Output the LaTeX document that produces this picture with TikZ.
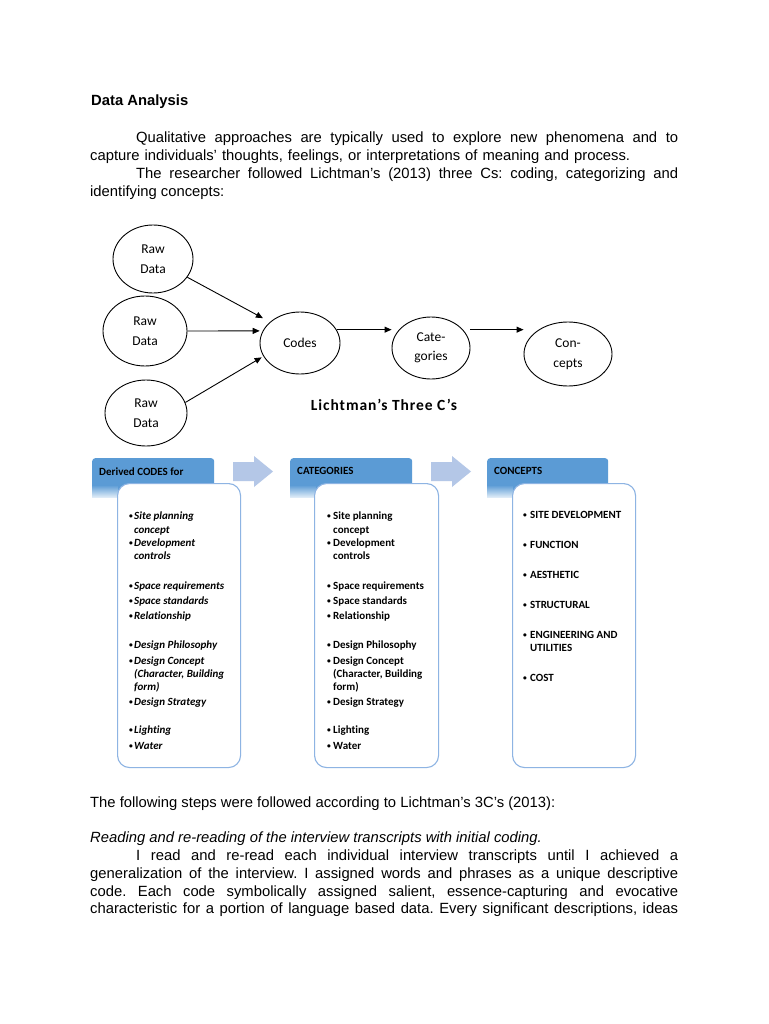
\documentclass[tikz,border=0pt]{standalone}
\usepackage{fontspec}
\setmainfont{Liberation Sans}
\newfontfamily\calib[Ligatures=NoCommon]{Carlito}
\newfontfamily\calibsp[LetterSpace=6,Ligatures=NoCommon]{Carlito}
\usetikzlibrary{shapes.geometric,arrows.meta}
\definecolor{hdrblue}{HTML}{5B9BD5}
\definecolor{hdrlight}{HTML}{DEEBF7}
\definecolor{boxline}{HTML}{8EB4E3}
\definecolor{arrblue}{HTML}{B4C7E7}
\frenchspacing
\tikzset{
  body/.style={anchor=base west, inner sep=0pt, font=\fontsize{14.8}{17}\selectfont},
  bodyb/.style={body, font=\fontsize{14.8}{17}\selectfont\bfseries},
  bodyi/.style={body, font=\fontsize{14.8}{17}\selectfont\itshape},
  oval/.style={ellipse, draw, line width=0.9pt, inner sep=0pt, align=center,
    font=\calib\fontsize{13.5}{19.5}\selectfont},
  flow/.style={-{Triangle[length=7pt,width=6pt]}, line width=0.9pt},
  hdr/.style={fill=hdrblue, rounded corners=3pt, anchor=north west, inner sep=0pt},
  hdrtext/.style={anchor=base west, inner sep=0pt, font=\calib\bfseries\fontsize{11}{13}\selectfont},
  card/.style={draw=boxline, fill=white, line width=1.1pt, rounded corners=12pt, anchor=north west, inner sep=0pt},
  itemi/.style={anchor=base west, inner sep=0pt, font=\calib\bfseries\itshape\fontsize{11}{12}\selectfont},
  itemb/.style={anchor=base west, inner sep=0pt, font=\calib\bfseries\fontsize{11}{12}\selectfont},
  bul/.style={anchor=base west, inner sep=0pt, font=\calib\bfseries\fontsize{7.5}{9}\selectfont},
  blockarrow/.style={fill=arrblue},
}
\begin{document}
\begin{tikzpicture}[x=1pt,y=-1pt]
\useasboundingbox[fill=white] (0,0) rectangle (768,1024);

% ---------- upper text ----------
\node[bodyb] (t0) at (91,106) {Data Analysis};
\node[body] (t1) at (136,143) {\makebox[542pt][s]{Qualitative approaches are typically used to explore new phenomena and to}};
\node[body] (t2) at (90,161) {\makebox[540pt][s]{capture individuals’ thoughts, feelings, or interpretations of meaning and process.}};
\node[body] (t3) at (136,179) {\makebox[542pt][s]{The researcher followed Lichtman’s (2013) three Cs: coding, categorizing and}};
\node[body] (t4) at (90,197) {identifying concepts:};

% ---------- three Cs diagram ----------
\node[oval, minimum width=80pt, minimum height=68pt] (rd1) at (153,259) {Raw\\Data};
\node[oval, minimum width=84pt, minimum height=70pt] (rd2) at (145,331) {Raw\\Data};
\node[oval, minimum width=82pt, minimum height=66pt] (rd3) at (146,413) {Raw\\Data};
\node[oval, minimum width=80pt, minimum height=62pt] (codes) at (300,343) {Codes};
\node[oval, minimum width=78pt, minimum height=62pt] (cats) at (431,348) {Cate-\\gories};
\node[oval, minimum width=88pt, minimum height=64pt] (conc) at (568,354) {Con-\\cepts};

\draw[flow, shorten >=8pt] (rd1.332) -- (codes.145);
\draw[flow, shorten >=3pt] (rd2.east) -- (codes.162);
\draw[flow, shorten >=2pt] (rd3.15) -- (codes.200);
\draw[flow] (codes.20) -- (codes.20 -| cats.west);
\draw[flow] (codes.20 -| cats.east) -- (codes.20 -| conc.west);

\node[anchor=base, inner sep=0pt, font=\calibsp\bfseries\fontsize{15.5}{18}\selectfont] (ttl) at (384,410) {Lichtman’s Three C’s};

% ---------- lower boxes ----------
\node[hdr, minimum width=122pt, minimum height=39pt] (h1) at (92,458) {};
\node[hdr, minimum width=122pt, minimum height=39pt] (h2) at (290,458) {};
\node[hdr, minimum width=121pt, minimum height=39pt] (h3) at (487,458) {};
\foreach \x in {92,290,487}{
  \shade[top color=hdrblue, bottom color=hdrlight] (\x,485) rectangle (\x+26,497);
}
\node[hdrtext] (h1t) at (99,475) {Derived CODES for};
\node[hdrtext] (h2t) at (297,474) {CATEGORIES};
\node[hdrtext] (h3t) at (494,474) {CONCEPTS};

\node[card, minimum width=123pt, minimum height=284pt] (c1) at (117,483) {};
\node[card, minimum width=124pt, minimum height=284pt] (c2) at (314,483) {};
\node[card, minimum width=123pt, minimum height=284pt] (c3) at (512,483) {};

\fill[blockarrow] (233,462) -- (254,462) -- (254,456) -- (273,471.5) -- (254,487) -- (254,481) -- (233,481) -- cycle;
\fill[blockarrow] (431,462) -- (452,462) -- (452,456) -- (471,471.5) -- (452,487) -- (452,481) -- (431,481) -- cycle;

% box 1 items (bold italic)
\foreach \y/\t in {515/Site planning, 542/Development, 585/Space requirements, 600/Space standards,
  615/Relationship, 644/Design Philosophy, 660/Design Concept, 701/Design Strategy, 729/Lighting, 745/Water}{
  \node[bul] (ab\y) at (129,\y+3) {•};
  \node[itemi] (a\y) at (134,\y+4) {\t};
}
\foreach \y/\t in {529/concept, 555/controls, 673/{(Character, Building}, 686/form)}{
  \node[itemi] (a\y) at (134,\y+4) {\t};
}
% box 2 items (bold)
\foreach \y/\t in {515/Site planning, 542/Development, 585/Space requirements, 600/Space standards,
  615/Relationship, 644/Design Philosophy, 660/Design Concept, 701/Design Strategy, 729/Lighting, 745/Water}{
  \node[bul] (bb\y) at (327,\y+3) {•};
  \node[itemb] (b\y) at (333,\y+4) {\t};
}
\foreach \y/\t in {529/concept, 555/controls, 673/{(Character, Building}, 686/form)}{
  \node[itemb] (b\y) at (333,\y+4) {\t};
}
% box 3 items
\foreach \y/\t in {514/SITE DEVELOPMENT, 544/FUNCTION, 574/AESTHETIC, 604/STRUCTURAL, 634/ENGINEERING AND, 677/COST}{
  \node[bul] (cb\y) at (523,\y+3) {•};
  \node[itemb] (c\y) at (530,\y+4) {\t};
}
\node[itemb] (c647) at (530,651) {UTILITIES};

% ---------- lower text ----------
\node[body] (u1) at (90,807) {The following steps were followed according to Lichtman’s 3C’s (2013):};
\node[bodyi] (u2) at (90,842) {Reading and re-reading of the interview transcripts with initial coding.};
\node[body] (u3) at (136,860) {\makebox[542pt][s]{I read and re-read each individual interview transcripts until I achieved a}};
\node[body] (u4) at (90,878) {\makebox[588pt][s]{generalization of the interview. I assigned words and phrases as a unique descriptive}};
\node[body] (u5) at (90,896) {\makebox[588pt][s]{code. Each code symbolically assigned salient, essence-capturing and evocative}};
\node[body] (u6) at (90,913) {\makebox[588pt][s]{characteristic for a portion of language based data. Every significant descriptions, ideas}};
\end{tikzpicture}
\end{document}
